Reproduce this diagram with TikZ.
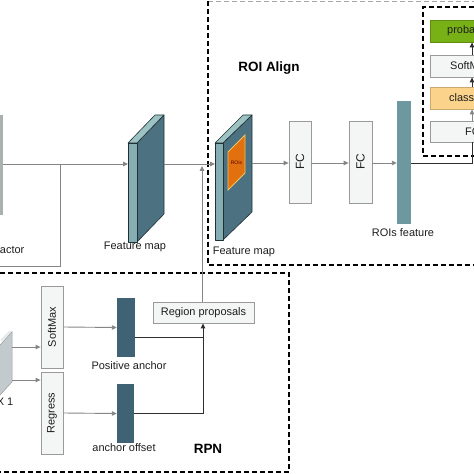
\documentclass[tikz,border=0pt]{standalone}
\usepackage{fontspec}
\setmainfont{Liberation Sans}
\usetikzlibrary{arrows.meta}
\definecolor{conn}{HTML}{858585}
\definecolor{darkconn}{HTML}{2E2E2E}
\definecolor{boxline}{HTML}{9A9A9A}
\definecolor{boxfill}{HTML}{F4F5F5}
\definecolor{fmfront}{HTML}{86AEB2}
\definecolor{fmtop}{HTML}{9CC2C2}
\definecolor{fmside}{HTML}{4C7282}
\definecolor{fmedge}{HTML}{1F3036}
\definecolor{barteal}{HTML}{6E989F}
\definecolor{bardark}{HTML}{3F6274}
\definecolor{roiorange}{HTML}{E2700E}
\definecolor{roiedge}{HTML}{F2C45E}
\definecolor{probgreen}{HTML}{78B116}
\definecolor{classorange}{HTML}{FBD38A}
\definecolor{txt}{HTML}{1E1E1E}
\definecolor{greyshape}{HTML}{A9B1B1}
\definecolor{rpnprism}{HTML}{C3CACD}
\definecolor{rpnprismtop}{HTML}{E4E8EA}
\begin{document}
\begin{tikzpicture}[x=1bp,y=-1bp,
  lbl/.style={text=txt,font=\fontsize{11}{13}\selectfont,inner sep=0pt},
  ttl/.style={text=black,font=\fontsize{13.5}{16}\selectfont\bfseries,inner sep=0pt},
  opbox/.style={draw=boxline,fill=boxfill,line width=0.8bp,inner sep=0pt,text=txt,font=\fontsize{11}{13}\selectfont},
  bar/.style={inner sep=0pt,draw=none},
  garrow/.style={draw=conn,line width=0.9bp,-{Triangle[length=5bp,width=4.5bp]}},
  gline/.style={draw=conn,line width=0.9bp},
  darrow/.style={draw=darkconn,line width=0.9bp,-{Triangle[length=5bp,width=4.5bp]}},
  dline/.style={draw=darkconn,line width=0.9bp},
  region/.style={draw=black,line width=1.4bp,dash pattern=on 5bp off 3bp},
  prismedge/.style={draw=fmedge,line width=0.6bp,line join=round}
]
\useasboundingbox (0,0) rectangle (474,474);
\clip (0,0) rectangle (474,474);

% ---------- dashed regions ----------
\draw[region,draw=gray!70] (208,1.5) -- (474,1.5);
\draw[region] (208,1.5) -- (208,265) -- (474,265);
\draw[region] (530,7) -- (423,7) -- (423,156) -- (530,156);
\draw[region] (0,273) -- (289,273) -- (289,472) -- (0,472);

% ---------- backbone remnant (left, cut) ----------
\fill[greyshape] (0,115) rectangle (2.8,215);
\coordinate (bbout) at (2.8,164);
\node[lbl,anchor=east] (bblabel) at (24.5,250) {actor};
\coordinate (j1) at (60,164);
\coordinate (j2) at (0,266);

% ---------- Feature map 1 ----------
\filldraw[prismedge,fill=fmside] (137,143) -- (164,115) -- (164,214) -- (137,242) -- cycle;
\filldraw[prismedge,fill=fmtop] (128,143) -- (155,115) -- (164,115) -- (137,143) -- cycle;
\filldraw[prismedge,fill=fmfront] (128,143) rectangle (137,242);
\coordinate (fm1in) at (128,164);
\coordinate (fm1out) at (164,164);
\node[lbl] (fm1lbl) at (135,247) {Feature map};

% ---------- Feature map 2 (ROI Align) ----------
\filldraw[prismedge,fill=fmside] (223,143) -- (252,115) -- (252,212) -- (223,240) -- cycle;
\filldraw[prismedge,fill=fmtop] (215,143) -- (243,115) -- (252,115) -- (223,143) -- cycle;
\filldraw[prismedge,fill=fmfront] (215,143) rectangle (223,240);
\filldraw[draw=roiedge,fill=roiorange,line width=0.8bp] (228,152) -- (245,135) -- (245,173) -- (228,190) -- cycle;
\node[inner sep=0pt,text=black!70!red,font=\fontsize{5}{6}\selectfont] (rois) at (236.5,163) {ROIs};
\coordinate (fm2in) at (215,164);
\coordinate (fm2out) at (252,163);
\node[lbl] (fm2lbl) at (244,252) {Feature map};

\node[ttl] (roialign) at (269,68) {ROI Align};

% ---------- FC layers ----------
\node[opbox,font=\fontsize{12}{14}\selectfont,minimum width=22bp,minimum height=82bp] (fc1) at (300,162) {\rotatebox{90}{FC}};
\node[opbox,font=\fontsize{12}{14}\selectfont,minimum width=23bp,minimum height=82bp] (fc2) at (360.5,162) {\rotatebox{90}{FC}};
\node[bar,fill=barteal,minimum width=14bp,minimum height=123bp] (roisf) at (404,162.5) {};
\node[lbl] (roisflbl) at (403,233) {ROIs feature};

% ---------- classification head ----------
\node[opbox,minimum width=84bp,minimum height=21bp] (hfc) at (472,131.5) {};
\node[opbox,fill=classorange,draw=classorange!80!black,minimum width=84bp,minimum height=22bp] (hclass) at (472,98) {};
\node[opbox,minimum width=84bp,minimum height=22bp] (hsoft) at (472,66) {};
\node[opbox,fill=probgreen,draw=probgreen!80!black,minimum width=84bp,minimum height=22bp] (hprob) at (472,31) {};
\node[lbl,anchor=west] (hfct) at (465,132) {FC};
\node[lbl,anchor=west] (hclasst) at (449,98) {class};
\node[lbl,anchor=west] (hsoftt) at (450,66) {SoftMax};
\node[lbl,anchor=west] (hprobt) at (447,31) {probability};
\coordinate (jh) at (472,163);

% ---------- RPN ----------
\fill[rpnprism] (0,345) -- (12,332) -- (12,382) -- (0,395) -- cycle;
\fill[rpnprismtop] (0,340) -- (9,331) -- (12,331) -- (2,341) -- cycle;
\draw[line width=0.5bp,gray!80] (0,345) -- (12,332) -- (12,382) -- (0,395);
\coordinate (rpnin1) at (12,347);
\coordinate (rpnin2) at (12,380);
\node[lbl,anchor=east] (x1) at (13.5,402) {X 1};

\node[opbox,minimum width=22bp,minimum height=82bp] (smax) at (52,327) {\rotatebox{90}{SoftMax}};
\node[opbox,minimum width=22bp,minimum height=82bp] (regr) at (52,413) {\rotatebox{90}{Regress}};
\node[bar,fill=bardark,minimum width=18bp,minimum height=59bp] (pos) at (126,327.5) {};
\node[bar,fill=bardark,minimum width=17bp,minimum height=59bp] (off) at (125.5,413.5) {};
\node[lbl] (poslbl) at (129,366) {Positive anchor};
\node[lbl] (offlbl) at (124,448) {anchor offset};
\node[opbox,minimum width=101bp,minimum height=21bp] (rp) at (203.5,312.5) {Region proposals};
\node[ttl] (rpn) at (208,449) {RPN};
\coordinate (jr) at (203,337);

% ---------- connectors ----------
\draw[garrow] (bbout) -- (fm1in);
\draw[gline] (j1) |- (j2);
\draw[garrow] (fm1out) -- (fm2in);
\draw[garrow] (rp.north -| 202,0) -- (202,166);
\draw[garrow] (fm2out) -- (fc1.west |- fm2out);
\draw[garrow] (fc1.east |- fm2out) -- (fc2.west |- fm2out);
\draw[garrow] (fc2.east |- fm2out) -- (roisf.west |- fm2out);
\draw[dline] (roisf.east |- jh) -- (jh) -- (hfc.south -| jh);
\draw[garrow] (hfc.north -| jh) -- (hclass.south -| jh);
\draw[darrow] (hclass.north -| jh) -- (hsoft.south -| jh);
\draw[darrow] (hsoft.north -| jh) -- (hprob.south -| jh);

\draw[garrow] (rpnin1) -- (smax.west |- rpnin1);
\draw[garrow] (rpnin2) -- (regr.west |- rpnin2);
\draw[garrow] (smax.east) -- (pos.west);
\draw[garrow] (regr.east) -- (off.west);
\draw[dline] (pos.east |- jr) -- (jr);
\draw[darrow] (off.east) -| (rp.south -| jr);
\end{tikzpicture}
\end{document}
